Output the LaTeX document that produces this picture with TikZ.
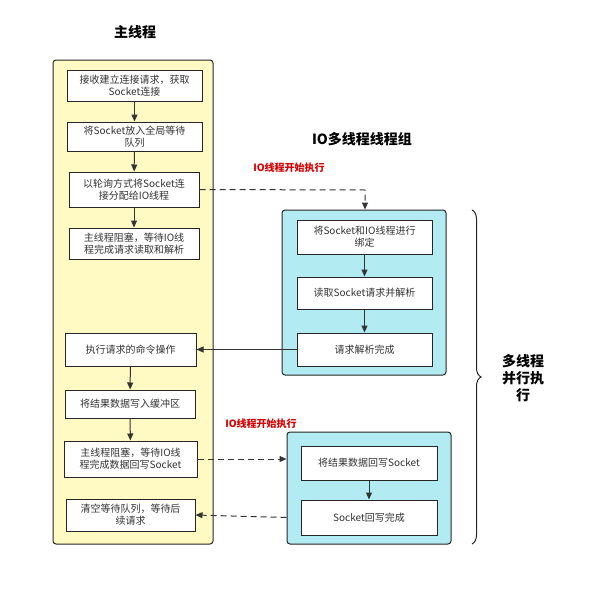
\documentclass[tikz,border=0pt]{standalone}
\usepackage{fontspec}
\setmainfont{Noto Sans CJK SC}
\usetikzlibrary{arrows.meta,decorations.pathreplacing}
\definecolor{yel}{HTML}{FFF9C4}
\definecolor{cy}{HTML}{B2EBF2}
\definecolor{tx}{HTML}{333333}
\begin{document}
\begin{tikzpicture}[x=1pt,y=-1pt,
  panel/.style={draw=black!85,line width=1pt,rounded corners=3pt},
  box/.style={draw=black!85,line width=1pt,fill=white,font=\fontsize{10}{12}\selectfont,text=tx,align=center,inner sep=0pt},
  arr/.style={-{Triangle[length=7pt,width=6pt]},line width=1pt,draw=black!80},
  darr/.style={arr,dashed,dash pattern=on 6pt off 4pt},
  ttl/.style={font=\bfseries\fontsize{14}{17}\selectfont},
  red/.style={font=\bfseries\fontsize{10}{12}\selectfont,text=red!85!black}]
\useasboundingbox (0,0) rectangle (600,589);
\node[panel,fill=yel,minimum width=160pt,minimum height=484pt] (main) at (133,302) {};
\node[ttl] (t1) at (135,32) {主线程};
\node[ttl] (t2) at (362,139) {IO多线程线程组};
\node[red] (r1) at (289,168) {IO线程开始执行};
\node[red] (r2) at (261,424) {IO线程开始执行};
\node[box,minimum width=135pt,minimum height=31pt] (b1) at (134.5,85.5) {接收建立连接请求，获取\\Socket连接};
\node[box,minimum width=135pt,minimum height=29pt] (b2) at (134.5,136.5) {将Socket放入全局等待\\队列};
\node[box,minimum width=130pt,minimum height=35pt] (b3) at (134,189.5) {以轮询方式将Socket连\\接分配给IO线程};
\node[box,minimum width=130pt,minimum height=31pt] (b4) at (134,243.5) {主线程阻塞，等待IO线\\程完成请求读取和解析};
\node[box,minimum width=131pt,minimum height=33pt] (b5) at (130.5,349.5) {执行请求的命令操作};
\node[box,minimum width=130pt,minimum height=28pt] (b6) at (130,404) {将结果数据写入缓冲区};
\node[box,minimum width=133pt,minimum height=36pt] (b7) at (130.5,459) {主线程阻塞，等待IO线\\程完成数据回写Socket};
\node[box,minimum width=129pt,minimum height=32pt] (b8) at (130.5,515) {清空等待队列，等待后\\续请求};
\node[panel,fill=cy,minimum width=164pt,minimum height=165pt] (p1) at (364,292.5) {};
\node[box,minimum width=135pt,minimum height=34pt] (a1) at (364.5,237) {将Socket和IO线程进行\\绑定};
\node[box,minimum width=135pt,minimum height=32pt] (a2) at (364.5,293) {读取Socket请求并解析};
\node[box,minimum width=135pt,minimum height=33pt] (a3) at (364.5,349.5) {请求解析完成};
\node[panel,fill=cy,minimum width=164pt,minimum height=112pt] (p2) at (369,488) {};
\node[box,minimum width=136pt,minimum height=34pt] (d1) at (369,463) {将结果数据回写Socket};
\node[box,minimum width=136pt,minimum height=35pt] (d2) at (369,517.5) {Socket回写完成};
\draw[arr] (b1) -- (b2);
\draw[arr] (b2) -- (b3);
\draw[arr] (b3) -- (b4);
\draw[arr] (b5) -- (b6);
\draw[arr] (b6) -- (b7);
\draw[arr] (a1) -- (a2);
\draw[arr] (a2) -- (a3);
\draw[arr] (d1) -- (d2);
\draw[arr] (a3.west) -- (b5.east);
\coordinate (c1) at (365,190);
\draw[darr] (b3.east) -- (c1) -- (p1.north -| c1);
\draw[darr] (b7.east) -- (b7.east -| p2.west);
\draw[darr] (d2.west -| p2.west) -- (b8.east);
\draw[line width=1pt,black!85,decorate,decoration={brace,amplitude=9pt}] (472,210) -- (472,544);
\node[ttl,align=center] (bl) at (523,378) {多线程\\并行执\\行};
\end{tikzpicture}
\end{document}
